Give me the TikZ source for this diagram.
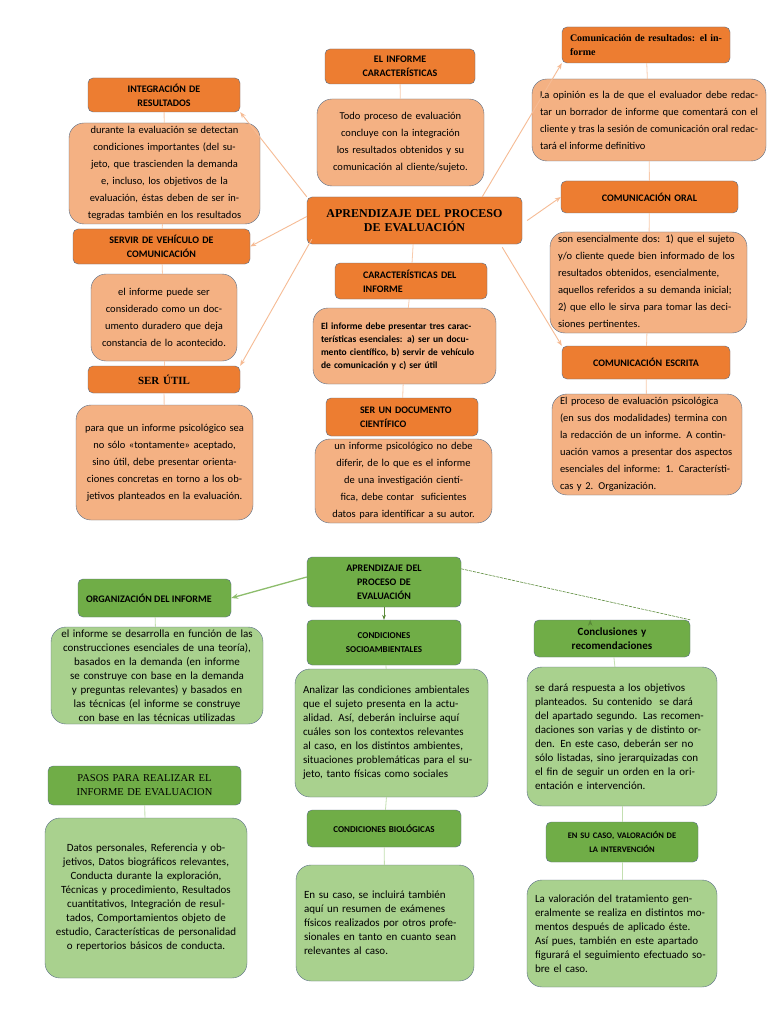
\documentclass[tikz,border=0pt]{standalone}
\usepackage{fontspec}
\setmainfont{Carlito}
\newfontfamily\serifb{Liberation Serif}
\usetikzlibrary{arrows.meta}
\definecolor{oh}{HTML}{ED7D31}
\definecolor{ob}{HTML}{F4B183}
\definecolor{gh}{HTML}{70AD47}
\definecolor{gb}{HTML}{A9D18E}
\definecolor{bd}{HTML}{5A6E86}
\definecolor{ln}{HTML}{F8CBAD}
\tikzset{
 oh/.style={draw=bd,fill=oh,rounded corners=5pt,font=\fontsize{10}{14}\selectfont\bfseries,align=center},
 ob/.style={draw=bd,fill=ob,rounded corners=15pt,font=\fontsize{10.5}{17}\selectfont,align=center},
 gh/.style={draw=bd,fill=gh,rounded corners=5pt,font=\fontsize{10}{14}\selectfont\bfseries,align=center},
 gbx/.style={draw=bd,fill=gb,rounded corners=15pt,font=\fontsize{11}{14}\selectfont,align=center},
 conn/.style={draw=ln,line width=0.8pt},
 gconn/.style={draw=gb!70!white,line width=0.8pt},
 oarr/.style={draw=ln!80!oh,line width=0.9pt,-{Stealth[length=6pt]}},
}
\newcommand\bx[7]{%
 \pgfmathsetmacro\bw{#4-#2}\pgfmathsetmacro\bh{#5-#3}\pgfmathsetmacro\tw{#4-#2-16}%
 \node[#6,minimum width=\bw pt,minimum height=\bh pt,text width=\tw pt,inner sep=0pt] (#1) at ({(#2+#4)/2},{(#3+#5)/2}) {#7};}
\begin{document}
\begin{tikzpicture}[x=1pt,y=-1pt]
\useasboundingbox[fill=white] (0,0) rectangle (768,1024);
% top connectors
\bx{h1}{88}{78}{240}{112}{oh}{INTEGRACIÓN DE\\RESULTADOS}
\bx{b1}{69}{123}{260}{224}{ob}{durante la evaluación se detectan condiciones importantes (del sujeto, que trascienden la demanda e, incluso, los objetivos de la evaluación, éstas deben de ser integradas también en los resultados}
\bx{h2}{73}{229}{250}{264}{oh}{SERVIR DE VEHÍCULO DE\\COMUNICACIÓN}
\bx{b2}{91}{274}{237}{361}{ob}{el informe puede ser considerado como un documento duradero que deja constancia de lo acontecido.}
\bx{h3}{88}{366}{240}{393}{oh,font=\serifb\fontsize{11}{14}\selectfont\bfseries}{SER ÚTIL}
\bx{b3}{76}{405}{253}{520}{ob}{para que un informe psicológico sea no sólo «tontamente» aceptado, sino útil, debe presentar orientaciones concretas en torno a los objetivos planteados en la evaluación.}
\bx{h4}{325}{49}{475}{84}{oh}{EL INFORME\\CARACTERÍSTICAS}
\bx{b4}{317}{99}{484}{186}{ob}{Todo proceso de evaluación concluye con la integración los resultados obtenidos y su comunicación al cliente/sujeto.}
\bx{c}{307}{197}{522}{244}{oh,font=\serifb\fontsize{12}{14}\selectfont\bfseries}{APRENDIZAJE DEL PROCESO\\DE EVALUACIÓN}
\bx{h5}{335}{263}{487}{299}{oh,align=left}{\hspace*{20pt}CARACTERÍSTICAS DEL\\\hspace*{20pt}INFORME}
\bx{b5}{313}{308}{496}{384}{ob,align=left,font=\fontsize{9.5}{13}\selectfont\bfseries}{El informe debe presentar tres características esenciales: a) ser un documento científico, b) servir de vehículo de comunicación y c) ser útil}
\bx{h6}{326}{398}{478}{436}{oh,align=left}{\hspace*{26pt}SER UN DOCUMENTO\\\hspace*{26pt}CIENTÍFICO}
\bx{b6}{315}{439}{492}{523}{ob}{un informe psicológico no debe diferir, de lo que es el informe de una investigación científica, debe contar\ \ suficientes datos para identificar a su autor.}
\bx{h7}{562}{27}{730}{63}{oh,align=justify,font=\serifb\fontsize{10}{14}\selectfont\bfseries}{Comunicación de resultados: el informe}
\bx{b7}{532}{79}{766}{161}{ob,align=justify}{La opinión es la de que el evaluador debe redactar un borrador de informe que comentará con el cliente y tras la sesión de comunicación oral redactará el informe definitivo}
\bx{h8}{561}{181}{738}{213}{oh}{COMUNICACIÓN ORAL}
\bx{b8}{550}{232}{747}{333}{ob,align=left}{son esencialmente dos: 1) que el sujeto y/o cliente quede bien informado de los resultados obtenidos, esencialmente, aquellos referidos a su demanda inicial; 2) que ello le sirva para tomar las decisiones pertinentes.}
\bx{h9}{562}{346}{730}{379}{oh}{COMUNICACIÓN ESCRITA}
\bx{b9}{552}{394}{742}{495}{ob,align=left}{El proceso de evaluación psicológica (en sus dos modalidades) termina con la redacción de un informe. A continuación vamos a presentar dos aspectos esenciales del informe: 1. Características y 2. Organización.}
\foreach \a/\b in {h1/b1,b1/h2,h2/b2,h3/b3,h4/b4,c/h5,h5/b5,b5/h6,h7/b7,b7/h8,h8/b8,b8/h9,h9/b9}{\draw[conn] (\a) -- (\b);}
\draw[conn] (b2) -- (h3);
\draw[oarr] (c.north west) -- (h1.south east);
\draw[oarr] (c.west) ++(0,-4) -- (h2.east);
\draw[oarr] (c.south west) ++(5,-5) -- (h3.north east);
\draw[oarr] (c.north east) ++(-40,0) -- (h7.south west);
\draw[oarr] (c.east) ++(5,0) -- (h8.west);
\draw[oarr] (c.south east) ++(-20,3) -- (h9.north west);
% bottom
\bx{g0}{307}{557}{461}{607}{gh}{APRENDIZAJE DEL\\PROCESO DE\\EVALUACIÓN}
\bx{g1}{78}{579}{231}{617}{gh,align=justify}{ORGANIZACIÓN DEL INFORME}
\bx{g1b}{51}{627}{263}{724}{gbx}{el informe se desarrolla en función de las construcciones esenciales de una teoría), basados en la demanda (en informe se construye con base en la demanda y preguntas relevantes) y basados en las técnicas (el informe se construye con base en las técnicas utilizadas}
\bx{g2}{48}{766}{241}{805}{gh,font=\serifb\fontsize{10.5}{14}\selectfont}{PASOS PARA REALIZAR EL\\INFORME DE EVALUACION}
\bx{g2b}{45}{818}{247}{978}{gbx}{Datos personales, Referencia y objetivos, Datos biográficos relevantes, Conducta durante la exploración, Técnicas y procedimiento, Resultados cuantitativos, Integración de resultados, Comportamientos objeto de estudio, Características de personalidad o repertorios básicos de conducta.}
\bx{g3}{307}{620}{461}{665}{gh,font=\fontsize{9}{14}\selectfont\bfseries}{CONDICIONES\\SOCIOAMBIENTALES}
\bx{g3b}{295}{669}{488}{797}{gbx,align=left}{Analizar las condiciones ambientales que el sujeto presenta en la actualidad. Así, deberán incluirse aquí cuáles son los contextos relevantes al caso, en los distintos ambientes, situaciones problemáticas para el sujeto, tanto físicas como sociales}
\bx{g4}{307}{810}{461}{847}{gh,font=\fontsize{9}{14}\selectfont\bfseries}{CONDICIONES BIOLÓGICAS}
\bx{g4b}{296}{865}{474}{981}{gbx,align=left}{En su caso, se incluirá también aquí un resumen de exámenes físicos realizados por otros profesionales en tanto en cuanto sean relevantes al caso.}
\bx{g5}{534}{620}{690}{657}{gh,font=\fontsize{11}{14}\selectfont\bfseries}{Conclusiones y\\recomendaciones}
\bx{g5b}{527}{667}{717}{806}{gbx,align=left}{se dará respuesta a los objetivos planteados. Su contenido\ \ se dará del apartado segundo. Las recomendaciones son varias y de distinto orden. En este caso, deberán ser no sólo listadas, sino jerarquizadas con el fin de seguir un orden en la orientación e intervención.}
\bx{g6}{546}{822}{698}{862}{gh,font=\fontsize{8.5}{14}\selectfont\bfseries}{EN SU CASO, VALORACIÓN DE\\LA INTERVENCIÓN}
\bx{g6b}{527}{880}{717}{987}{gbx,align=left}{La valoración del tratamiento generalmente se realiza en distintos momentos después de aplicado éste. Así pues, también en este apartado figurará el seguimiento efectuado sobre el caso.}
\foreach \a/\b in {g1/g1b,g2/g2b,g3/g3b,g3b/g4,g4/g4b,g5/g5b,g5b/g6,g6/g6b}{\draw[gconn] (\a) -- (\b);}
\draw[gh!80!white,line width=1.3pt,-{Stealth[length=7pt]}] (g0.west) ++(0,-5) -- (g1.east);
\draw[gh!80!black,line width=0.6pt,-{Stealth[length=5pt]}] (g0.south) -- (g3.north);
\draw[gh!80!black,line width=0.6pt,dash pattern=on 3pt off 1pt,-{Stealth[length=6pt]}] (g0.north east) ++(0,12) -- (g5.north east) ++(-100,0);
\end{tikzpicture}
\end{document}
